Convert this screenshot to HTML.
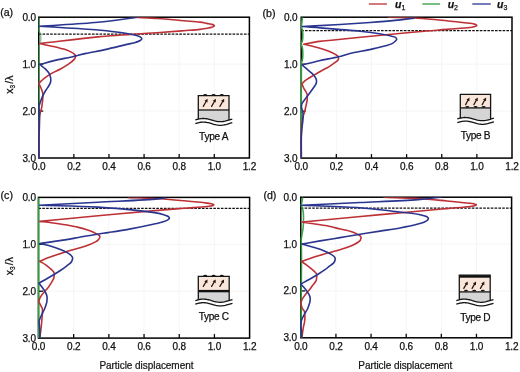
<!DOCTYPE html><html><head><meta charset="utf-8"><style>html,body{margin:0;padding:0;background:#fff;}svg{display:block;}text{font-family:"Liberation Sans",Arial,sans-serif;stroke:#111;stroke-width:0.25px;}</style></head><body>
<svg width="520" height="372" viewBox="0 0 520 372">
<rect width="520" height="372" fill="#fff"/>
<line x1="73.86" y1="17.20" x2="73.86" y2="158.00" stroke="#f2f2f2" stroke-width="0.8"/>
<line x1="108.97" y1="17.20" x2="108.97" y2="158.00" stroke="#f2f2f2" stroke-width="0.8"/>
<line x1="144.08" y1="17.20" x2="144.08" y2="158.00" stroke="#f2f2f2" stroke-width="0.8"/>
<line x1="179.18" y1="17.20" x2="179.18" y2="158.00" stroke="#f2f2f2" stroke-width="0.8"/>
<line x1="214.29" y1="17.20" x2="214.29" y2="158.00" stroke="#f2f2f2" stroke-width="0.8"/>
<line x1="38.75" y1="64.13" x2="249.40" y2="64.13" stroke="#f2f2f2" stroke-width="0.8"/>
<line x1="38.75" y1="111.07" x2="249.40" y2="111.07" stroke="#f2f2f2" stroke-width="0.8"/>
<clipPath id="cpa"><rect x="36.75" y="17.20" width="212.65" height="140.80"/></clipPath>
<line x1="38.75" y1="34.20" x2="249.40" y2="34.20" stroke="#111" stroke-width="1.25" stroke-dasharray="2.6 1.2"/>
<rect x="38.75" y="17.20" width="210.65" height="140.80" fill="none" stroke="#000" stroke-width="1.5"/>
<line x1="73.86" y1="158.00" x2="73.86" y2="154.00" stroke="#0a0a0a" stroke-width="1.3"/>
<line x1="108.97" y1="158.00" x2="108.97" y2="154.00" stroke="#0a0a0a" stroke-width="1.3"/>
<line x1="144.08" y1="158.00" x2="144.08" y2="154.00" stroke="#0a0a0a" stroke-width="1.3"/>
<line x1="179.18" y1="158.00" x2="179.18" y2="154.00" stroke="#0a0a0a" stroke-width="1.3"/>
<line x1="214.29" y1="158.00" x2="214.29" y2="154.00" stroke="#0a0a0a" stroke-width="1.3"/>
<line x1="38.75" y1="64.13" x2="43.25" y2="64.13" stroke="#0a0a0a" stroke-width="1.3"/>
<line x1="38.75" y1="111.07" x2="43.25" y2="111.07" stroke="#0a0a0a" stroke-width="1.3"/>
<g clip-path="url(#cpa)" fill="none" stroke-width="1.6" stroke-linejoin="round">
<path d="M38.90 17.20 L38.90 30.60 C39.37 31.73 40.03 33.10 40.30 34.00 C40.47 34.56 40.51 34.95 40.59 35.40 C40.66 35.81 40.70 36.18 40.74 36.60 C40.78 37.05 40.80 37.53 40.80 38.00 C40.80 38.47 40.78 38.95 40.74 39.40 C40.70 39.82 40.66 40.19 40.59 40.60 C40.51 41.05 40.47 41.43 40.30 42.00 C40.03 42.93 39.37 44.40 38.90 45.60 L38.90 158.00" stroke="#2e9e3a" stroke-opacity="0.55"/>
<path d="M135.00 17.20 C142.67 17.63 150.12 17.94 158.00 18.50 C166.36 19.09 176.20 20.05 183.80 20.70 C189.83 21.22 195.75 21.52 200.00 22.10 C202.80 22.48 204.87 23.01 206.90 23.40 C208.51 23.71 210.03 23.93 211.23 24.24 C212.11 24.47 212.92 24.64 213.48 24.96 C213.89 25.20 214.40 25.52 214.40 25.80 C214.40 26.08 213.89 26.40 213.48 26.64 C212.92 26.96 212.11 27.13 211.23 27.36 C210.03 27.67 208.51 27.90 206.90 28.20 C204.87 28.57 202.79 29.05 200.00 29.40 C195.74 29.94 189.72 30.24 183.80 30.70 C176.63 31.26 169.80 31.78 160.00 32.50 C144.19 33.66 118.31 35.03 98.00 36.90 C78.30 38.72 59.27 41.30 39.90 43.50 C41.83 44.00 43.62 44.53 45.70 45.00 C48.08 45.54 50.84 45.94 53.40 46.50 C55.97 47.07 58.81 47.80 61.10 48.40 C62.95 48.89 64.35 49.14 66.10 49.80 C68.16 50.57 71.16 52.06 72.60 52.90 C73.37 53.35 73.81 53.67 74.27 54.09 C74.68 54.45 75.08 54.81 75.28 55.21 C75.45 55.56 75.50 55.94 75.50 56.30 C75.50 56.66 75.38 57.04 75.28 57.38 C75.19 57.71 75.11 58.00 74.95 58.31 C74.77 58.67 74.61 58.95 74.20 59.40 C73.22 60.48 70.63 62.68 68.50 64.20 C66.12 65.90 63.27 67.49 60.50 69.00 C57.64 70.56 54.35 71.80 51.60 73.40 C49.05 74.89 46.50 76.65 44.50 78.20 C42.90 79.43 41.42 80.85 40.40 81.80 C39.76 82.40 39.40 82.80 38.90 83.30 C39.77 85.30 40.90 87.78 41.50 89.30 C41.86 90.22 42.09 90.82 42.31 91.54 C42.51 92.20 42.70 92.79 42.80 93.46 C42.90 94.17 42.90 94.95 42.90 95.70 C42.90 96.45 42.83 97.22 42.80 97.94 C42.76 98.60 42.75 99.20 42.69 99.86 C42.62 100.58 42.53 101.16 42.40 102.10 C42.19 103.69 41.89 106.81 41.50 108.50 C41.24 109.64 40.90 110.37 40.60 111.30 C40.27 112.87 39.84 114.17 39.60 116.00 C39.27 118.51 39.22 121.06 39.10 125.00 C38.87 132.55 38.97 147.00 38.90 158.00" stroke="#bd3036"/>
<path d="M137.20 17.30 C135.67 17.50 134.85 17.61 132.60 17.90 C126.44 18.68 111.05 20.94 98.00 22.20 C81.11 23.83 59.13 24.87 39.70 26.20 C59.13 27.47 81.98 28.51 98.00 30.00 C109.29 31.05 120.02 32.38 126.80 33.50 C130.55 34.12 133.03 34.66 135.46 35.32 C137.27 35.81 139.02 36.16 140.12 36.88 C140.91 37.39 141.80 38.09 141.80 38.70 C141.80 39.31 140.90 39.98 140.12 40.52 C139.01 41.29 137.28 41.83 135.46 42.41 C133.04 43.17 130.34 43.57 126.80 44.40 C121.16 45.72 111.94 48.06 104.90 49.60 C98.38 51.03 91.36 52.22 86.00 53.40 C82.01 54.28 78.49 55.20 75.60 55.90 C73.54 56.40 72.55 56.69 70.30 57.20 C66.38 58.09 59.29 59.30 54.10 60.60 C49.21 61.82 44.70 63.33 40.00 64.70 C41.77 66.10 43.73 67.37 45.30 68.90 C46.81 70.38 48.41 72.10 49.30 73.70 C50.02 75.00 50.41 76.77 50.60 77.60 C50.69 77.98 50.69 78.17 50.72 78.44 C50.74 78.69 50.75 78.91 50.77 79.16 C50.78 79.43 50.80 79.72 50.80 80.00 C50.80 80.28 50.80 80.53 50.77 80.84 C50.72 81.24 50.62 81.77 50.50 82.21 C50.39 82.62 50.32 82.91 50.10 83.40 C49.71 84.29 48.81 85.87 48.10 87.00 C47.43 88.06 46.76 88.78 46.00 90.00 C44.92 91.75 43.44 94.30 42.40 96.60 C41.33 98.96 40.34 102.07 39.70 104.00 C39.30 105.21 39.10 106.00 38.80 107.00 C39.00 108.67 39.30 110.57 39.40 112.00 C39.47 113.07 39.44 113.90 39.46 114.80 C39.47 115.63 39.48 116.37 39.49 117.20 C39.49 118.10 39.50 119.07 39.50 120.00 C39.50 120.93 39.50 121.66 39.49 122.80 C39.46 124.60 39.38 127.60 39.29 129.75 C39.21 131.62 39.07 132.63 39.00 135.00 C38.85 139.96 38.93 150.33 38.90 158.00" stroke="#2a3590"/>
</g>
<text x="38.75" y="169.90" font-size="10.0" letter-spacing="-0.2" text-anchor="middle" fill="#111">0.0</text>
<text x="73.86" y="169.90" font-size="10.0" letter-spacing="-0.2" text-anchor="middle" fill="#111">0.2</text>
<text x="108.97" y="169.90" font-size="10.0" letter-spacing="-0.2" text-anchor="middle" fill="#111">0.4</text>
<text x="144.08" y="169.90" font-size="10.0" letter-spacing="-0.2" text-anchor="middle" fill="#111">0.6</text>
<text x="179.18" y="169.90" font-size="10.0" letter-spacing="-0.2" text-anchor="middle" fill="#111">0.8</text>
<text x="214.29" y="169.90" font-size="10.0" letter-spacing="-0.2" text-anchor="middle" fill="#111">1.0</text>
<text x="249.40" y="169.90" font-size="10.0" letter-spacing="-0.2" text-anchor="middle" fill="#111">1.2</text>
<text x="35.75" y="20.70" font-size="10.0" letter-spacing="-0.2" text-anchor="end" fill="#111">0.0</text>
<text x="35.75" y="67.63" font-size="10.0" letter-spacing="-0.2" text-anchor="end" fill="#111">1.0</text>
<text x="35.75" y="114.57" font-size="10.0" letter-spacing="-0.2" text-anchor="end" fill="#111">2.0</text>
<text x="35.75" y="161.50" font-size="10.0" letter-spacing="-0.2" text-anchor="end" fill="#111">3.0</text>
<text x="0.2" y="16.4" font-size="10.6" fill="#111">(a)</text>
<line x1="336.33" y1="17.20" x2="336.33" y2="158.10" stroke="#f2f2f2" stroke-width="0.8"/>
<line x1="371.47" y1="17.20" x2="371.47" y2="158.10" stroke="#f2f2f2" stroke-width="0.8"/>
<line x1="406.60" y1="17.20" x2="406.60" y2="158.10" stroke="#f2f2f2" stroke-width="0.8"/>
<line x1="441.73" y1="17.20" x2="441.73" y2="158.10" stroke="#f2f2f2" stroke-width="0.8"/>
<line x1="476.87" y1="17.20" x2="476.87" y2="158.10" stroke="#f2f2f2" stroke-width="0.8"/>
<line x1="301.20" y1="64.17" x2="512.00" y2="64.17" stroke="#f2f2f2" stroke-width="0.8"/>
<line x1="301.20" y1="111.13" x2="512.00" y2="111.13" stroke="#f2f2f2" stroke-width="0.8"/>
<clipPath id="cpb"><rect x="299.20" y="17.20" width="212.80" height="140.90"/></clipPath>
<line x1="301.20" y1="30.50" x2="512.00" y2="30.50" stroke="#111" stroke-width="1.25" stroke-dasharray="2.6 1.2"/>
<rect x="301.20" y="17.20" width="210.80" height="140.90" fill="none" stroke="#000" stroke-width="1.5"/>
<line x1="336.33" y1="158.10" x2="336.33" y2="154.10" stroke="#0a0a0a" stroke-width="1.3"/>
<line x1="371.47" y1="158.10" x2="371.47" y2="154.10" stroke="#0a0a0a" stroke-width="1.3"/>
<line x1="406.60" y1="158.10" x2="406.60" y2="154.10" stroke="#0a0a0a" stroke-width="1.3"/>
<line x1="441.73" y1="158.10" x2="441.73" y2="154.10" stroke="#0a0a0a" stroke-width="1.3"/>
<line x1="476.87" y1="158.10" x2="476.87" y2="154.10" stroke="#0a0a0a" stroke-width="1.3"/>
<line x1="301.20" y1="64.17" x2="305.70" y2="64.17" stroke="#0a0a0a" stroke-width="1.3"/>
<line x1="301.20" y1="111.13" x2="305.70" y2="111.13" stroke="#0a0a0a" stroke-width="1.3"/>
<g clip-path="url(#cpb)" fill="none" stroke-width="1.6" stroke-linejoin="round">
<path d="M302.40 17.20 L301.30 26.80 C301.70 28.20 302.29 29.97 302.50 31.00 C302.62 31.59 302.63 31.95 302.67 32.40 C302.72 32.81 302.75 33.18 302.77 33.60 C302.79 34.05 302.80 34.53 302.80 35.00 C302.80 35.47 302.79 35.90 302.77 36.40 C302.75 36.97 302.72 37.64 302.67 38.25 C302.63 38.84 302.64 39.31 302.50 40.00 C302.29 41.07 301.70 42.67 301.30 44.00 C301.70 45.67 302.29 47.76 302.50 49.00 C302.62 49.73 302.63 50.19 302.67 50.75 C302.71 51.27 302.74 51.73 302.76 52.25 C302.79 52.81 302.80 53.42 302.80 54.00 C302.80 54.58 302.79 55.19 302.76 55.75 C302.74 56.27 302.71 56.73 302.67 57.25 C302.63 57.81 302.63 58.28 302.50 59.00 C302.29 60.19 301.70 62.13 301.30 63.70 C301.37 75.80 301.33 86.49 301.30 100.00 C301.26 117.08 301.23 138.67 301.20 158.00" stroke="#2e9e3a" stroke-opacity="1"/>
<path d="M388.00 17.20 C398.00 17.53 408.11 17.59 418.00 18.20 C427.71 18.80 437.73 19.90 446.80 20.80 C454.93 21.61 465.39 22.64 469.90 23.30 C471.78 23.58 472.78 23.77 473.88 24.04 C474.69 24.23 475.44 24.38 475.95 24.66 C476.33 24.87 476.80 25.15 476.80 25.40 C476.80 25.64 476.33 25.93 475.95 26.13 C475.44 26.42 474.69 26.57 473.88 26.77 C472.78 27.03 471.79 27.25 469.90 27.50 C465.39 28.10 454.92 28.74 446.80 29.40 C437.73 30.14 429.34 30.70 418.00 31.70 C401.62 33.15 373.55 35.95 358.00 37.50 C348.10 38.49 340.76 39.30 333.70 40.00 C328.25 40.54 324.09 40.70 319.20 41.40 C314.13 42.12 308.93 43.33 303.80 44.30 C307.33 45.10 310.97 45.79 314.40 46.70 C317.70 47.57 320.99 48.58 324.00 49.60 C326.72 50.52 329.36 51.38 331.70 52.50 C333.82 53.51 336.60 55.03 337.50 55.90 C337.86 56.25 337.93 56.51 338.08 56.81 C338.20 57.07 338.28 57.32 338.35 57.59 C338.42 57.88 338.50 58.20 338.50 58.50 C338.50 58.80 338.49 59.09 338.35 59.41 C338.16 59.86 337.71 60.41 337.27 60.84 C336.81 61.31 336.35 61.55 335.60 62.10 C334.10 63.19 330.89 65.63 328.80 66.90 C327.15 67.90 326.00 68.31 324.20 69.30 C321.55 70.76 317.57 73.09 314.50 74.90 C311.70 76.55 308.76 78.10 306.50 79.70 C304.67 81.00 303.37 82.30 301.80 83.60 C302.53 85.27 303.28 87.22 304.00 88.60 C304.54 89.63 305.14 90.41 305.60 91.20 C305.98 91.85 306.31 92.39 306.58 92.98 C306.84 93.53 307.10 94.06 307.22 94.62 C307.33 95.17 307.30 95.74 307.30 96.30 C307.30 96.86 307.24 97.44 307.22 97.98 C307.20 98.48 307.21 98.92 307.17 99.42 C307.14 99.96 307.12 100.38 307.00 101.10 C306.78 102.44 306.06 105.02 305.70 106.80 C305.38 108.36 305.17 109.73 304.90 111.20 C304.43 112.47 303.93 113.52 303.50 115.00 C302.93 116.96 302.35 119.29 302.00 122.00 C301.53 125.65 301.52 130.05 301.40 135.00 C301.23 141.58 301.33 150.33 301.30 158.00" stroke="#bd3036"/>
<path d="M414.40 18.10 C407.93 18.87 401.88 19.70 395.00 20.40 C387.20 21.19 378.72 21.84 370.00 22.50 C360.46 23.22 350.57 23.87 340.00 24.50 C328.15 25.21 314.87 25.83 302.30 26.50 C321.53 28.07 345.54 29.65 360.00 31.20 C368.75 32.14 375.46 33.08 381.00 34.00 C384.66 34.61 387.45 35.18 390.07 35.82 C392.11 36.32 394.36 36.58 395.46 37.38 C396.15 37.88 396.70 38.59 396.70 39.20 C396.70 39.81 396.02 40.42 395.46 41.02 C394.73 41.81 393.72 42.67 392.52 43.36 C390.98 44.25 389.26 44.84 386.80 45.60 C382.62 46.89 375.45 48.32 369.50 49.60 C363.20 50.96 355.62 52.13 350.00 53.50 C345.64 54.56 342.85 55.74 338.50 56.80 C332.92 58.16 325.40 59.29 319.20 60.70 C313.36 62.03 307.93 63.57 302.30 65.00 C303.77 66.53 305.69 67.91 306.70 68.80 C307.28 69.31 307.40 69.55 308.00 70.10 C309.21 71.21 312.30 73.25 313.70 74.90 C314.81 76.20 315.73 78.03 316.10 78.90 C316.26 79.28 316.27 79.49 316.33 79.78 C316.38 80.03 316.42 80.26 316.44 80.53 C316.47 80.80 316.50 81.11 316.50 81.40 C316.50 81.69 316.51 81.93 316.44 82.28 C316.33 82.83 316.05 83.75 315.74 84.39 C315.46 84.98 315.18 85.30 314.70 86.00 C313.75 87.40 311.77 90.19 310.30 92.20 C308.87 94.15 307.40 96.00 306.00 97.90 C304.63 99.77 302.75 101.81 302.00 103.50 C301.48 104.69 301.53 105.70 301.30 106.80 C301.73 108.40 302.33 110.54 302.60 111.60 C302.74 112.13 302.81 112.41 302.89 112.79 C302.96 113.14 303.04 113.46 303.07 113.81 C303.11 114.19 303.10 114.60 303.10 115.00 C303.10 115.40 303.10 115.65 303.07 116.19 C303.03 117.33 302.91 119.92 302.76 121.50 C302.64 122.79 302.47 123.53 302.30 125.00 C302.01 127.48 301.50 130.98 301.30 135.00 C301.00 141.09 301.30 150.33 301.30 158.00" stroke="#2a3590"/>
</g>
<text x="301.20" y="170.00" font-size="10.0" letter-spacing="-0.2" text-anchor="middle" fill="#111">0.0</text>
<text x="336.33" y="170.00" font-size="10.0" letter-spacing="-0.2" text-anchor="middle" fill="#111">0.2</text>
<text x="371.47" y="170.00" font-size="10.0" letter-spacing="-0.2" text-anchor="middle" fill="#111">0.4</text>
<text x="406.60" y="170.00" font-size="10.0" letter-spacing="-0.2" text-anchor="middle" fill="#111">0.6</text>
<text x="441.73" y="170.00" font-size="10.0" letter-spacing="-0.2" text-anchor="middle" fill="#111">0.8</text>
<text x="476.87" y="170.00" font-size="10.0" letter-spacing="-0.2" text-anchor="middle" fill="#111">1.0</text>
<text x="512.00" y="170.00" font-size="10.0" letter-spacing="-0.2" text-anchor="middle" fill="#111">1.2</text>
<text x="297.30" y="20.70" font-size="10.0" letter-spacing="-0.2" text-anchor="end" fill="#111">0.0</text>
<text x="297.30" y="67.67" font-size="10.0" letter-spacing="-0.2" text-anchor="end" fill="#111">1.0</text>
<text x="297.30" y="114.63" font-size="10.0" letter-spacing="-0.2" text-anchor="end" fill="#111">2.0</text>
<text x="297.30" y="161.60" font-size="10.0" letter-spacing="-0.2" text-anchor="end" fill="#111">3.0</text>
<text x="262.6" y="17.1" font-size="10.6" fill="#111">(b)</text>
<line x1="73.68" y1="197.40" x2="73.68" y2="338.10" stroke="#f2f2f2" stroke-width="0.8"/>
<line x1="108.87" y1="197.40" x2="108.87" y2="338.10" stroke="#f2f2f2" stroke-width="0.8"/>
<line x1="144.05" y1="197.40" x2="144.05" y2="338.10" stroke="#f2f2f2" stroke-width="0.8"/>
<line x1="179.23" y1="197.40" x2="179.23" y2="338.10" stroke="#f2f2f2" stroke-width="0.8"/>
<line x1="214.42" y1="197.40" x2="214.42" y2="338.10" stroke="#f2f2f2" stroke-width="0.8"/>
<line x1="38.50" y1="244.30" x2="249.60" y2="244.30" stroke="#f2f2f2" stroke-width="0.8"/>
<line x1="38.50" y1="291.20" x2="249.60" y2="291.20" stroke="#f2f2f2" stroke-width="0.8"/>
<clipPath id="cpc"><rect x="36.50" y="197.40" width="213.10" height="140.70"/></clipPath>
<line x1="38.50" y1="208.30" x2="249.60" y2="208.30" stroke="#111" stroke-width="1.25" stroke-dasharray="2.6 1.2"/>
<rect x="38.50" y="197.40" width="211.10" height="140.70" fill="none" stroke="#000" stroke-width="1.5"/>
<line x1="73.68" y1="338.10" x2="73.68" y2="334.10" stroke="#0a0a0a" stroke-width="1.3"/>
<line x1="108.87" y1="338.10" x2="108.87" y2="334.10" stroke="#0a0a0a" stroke-width="1.3"/>
<line x1="144.05" y1="338.10" x2="144.05" y2="334.10" stroke="#0a0a0a" stroke-width="1.3"/>
<line x1="179.23" y1="338.10" x2="179.23" y2="334.10" stroke="#0a0a0a" stroke-width="1.3"/>
<line x1="214.42" y1="338.10" x2="214.42" y2="334.10" stroke="#0a0a0a" stroke-width="1.3"/>
<line x1="38.50" y1="244.30" x2="43.00" y2="244.30" stroke="#0a0a0a" stroke-width="1.3"/>
<line x1="38.50" y1="291.20" x2="43.00" y2="291.20" stroke="#0a0a0a" stroke-width="1.3"/>
<g clip-path="url(#cpc)" fill="none" stroke-width="1.6" stroke-linejoin="round">
<path d="M38.50 197.40 L38.50 338.00" stroke="#2e9e3a" stroke-opacity="1"/>
<path d="M128.00 197.40 C137.00 197.77 145.86 197.95 155.00 198.50 C164.45 199.07 174.73 199.99 183.80 200.80 C191.93 201.53 202.38 202.54 206.90 203.10 C208.78 203.33 209.78 203.48 210.88 203.69 C211.69 203.85 212.43 203.97 212.95 204.21 C213.32 204.37 213.80 204.60 213.80 204.80 C213.80 205.00 213.32 205.23 212.95 205.40 C212.43 205.63 211.69 205.75 210.88 205.91 C209.78 206.12 208.78 206.29 206.90 206.50 C202.39 207.01 191.92 207.66 183.80 208.30 C174.73 209.02 166.22 209.64 155.00 210.60 C139.21 211.95 117.10 214.01 98.00 215.80 C78.70 217.61 59.20 219.53 39.80 221.40 C43.70 221.83 47.47 222.18 51.50 222.70 C55.82 223.26 60.43 223.92 64.90 224.70 C69.40 225.49 73.94 226.27 78.40 227.40 C82.90 228.54 88.37 230.13 91.80 231.50 C94.05 232.40 95.95 233.52 97.20 234.20 C97.88 234.57 98.32 234.80 98.76 235.11 C99.12 235.36 99.49 235.58 99.68 235.89 C99.85 236.16 99.90 236.50 99.90 236.80 C99.90 237.10 99.84 237.36 99.68 237.71 C99.42 238.31 98.82 239.28 98.21 239.92 C97.57 240.58 97.00 240.97 95.90 241.60 C93.66 242.88 89.23 244.82 85.10 246.30 C79.85 248.18 72.79 249.65 66.80 251.50 C60.93 253.32 54.43 255.49 49.50 257.30 C45.75 258.67 42.97 259.90 39.70 261.20 C41.70 262.40 43.77 263.43 45.70 264.80 C47.71 266.22 50.19 268.38 51.50 269.60 C52.23 270.28 52.66 270.72 53.12 271.28 C53.51 271.76 53.91 272.20 54.11 272.72 C54.30 273.24 54.30 273.84 54.30 274.40 C54.30 274.96 54.17 275.54 54.11 276.08 C54.04 276.58 54.03 277.03 53.92 277.52 C53.80 278.06 53.71 278.52 53.40 279.20 C52.85 280.42 51.49 282.46 50.50 284.00 C49.55 285.48 48.63 287.01 47.60 288.30 C46.65 289.49 45.65 290.25 44.60 291.50 C43.25 293.10 41.31 295.35 40.30 297.20 C39.49 298.70 39.23 300.13 38.70 301.60 C39.57 303.23 40.72 305.36 41.30 306.50 C41.61 307.11 41.80 307.45 41.99 307.90 C42.17 308.31 42.36 308.68 42.45 309.10 C42.54 309.54 42.50 310.03 42.50 310.50 C42.50 310.97 42.47 311.38 42.45 311.90 C42.42 312.55 42.42 313.37 42.37 314.07 C42.33 314.74 42.28 315.11 42.20 316.00 C42.02 318.03 41.65 322.67 41.30 326.00 C40.95 329.34 40.38 333.94 40.10 336.00 C39.98 336.92 39.90 337.33 39.80 338.00" stroke="#bd3036"/>
<path d="M167.00 197.40 C164.00 197.90 162.34 198.42 158.00 198.90 C146.85 200.13 117.86 201.14 98.00 202.20 C78.43 203.24 59.13 204.20 39.70 205.20 C59.13 205.83 78.61 205.82 98.00 207.10 C117.38 208.38 145.68 211.18 156.00 212.90 C159.81 213.54 161.58 214.06 163.74 214.72 C165.34 215.21 166.86 215.59 167.85 216.28 C168.58 216.79 169.40 217.49 169.40 218.10 C169.40 218.71 168.56 219.39 167.85 219.92 C166.90 220.62 165.48 221.09 163.95 221.61 C161.89 222.31 159.82 222.74 156.50 223.50 C149.90 225.01 135.59 228.00 126.80 229.60 C119.84 230.87 113.41 231.77 108.00 232.60 C103.91 233.23 101.29 233.54 97.20 234.20 C91.79 235.08 84.78 236.40 78.40 237.50 C71.79 238.64 64.79 239.88 58.20 240.90 C51.90 241.87 45.87 242.63 39.70 243.50 C42.97 244.27 46.12 244.82 49.50 245.80 C53.23 246.88 57.62 248.35 61.10 249.80 C64.09 251.05 67.46 252.66 69.20 253.80 C70.13 254.40 70.63 254.88 71.16 255.44 C71.61 255.92 72.03 256.37 72.26 256.89 C72.49 257.39 72.60 257.96 72.60 258.50 C72.60 259.04 72.43 259.60 72.26 260.11 C72.10 260.60 71.92 261.03 71.63 261.49 C71.29 262.03 70.89 262.53 70.30 263.10 C69.44 263.93 68.11 264.81 66.80 265.80 C65.14 267.05 62.84 268.80 61.10 270.00 C59.69 270.97 58.80 271.51 57.20 272.50 C54.72 274.05 50.73 276.48 47.60 278.30 C44.67 280.00 41.87 281.50 39.00 283.10 C40.17 284.67 41.40 286.21 42.50 287.80 C43.57 289.35 44.82 291.22 45.50 292.50 C45.94 293.32 46.17 293.90 46.42 294.60 C46.66 295.26 46.86 295.92 46.97 296.57 C47.08 297.22 47.10 297.86 47.10 298.50 C47.10 299.14 47.03 299.81 46.97 300.43 C46.92 301.00 46.87 301.51 46.76 302.07 C46.65 302.69 46.53 303.22 46.30 304.00 C45.92 305.28 45.20 307.35 44.50 309.00 C43.78 310.69 42.79 312.32 42.00 314.00 C41.22 315.66 40.33 317.61 39.80 319.00 C39.43 319.97 39.27 320.67 39.00 321.50 C39.27 324.33 39.69 328.23 39.80 330.00 C39.85 330.80 39.84 331.13 39.86 331.75 C39.87 332.44 39.88 333.35 39.89 333.95 C39.89 334.36 39.90 334.65 39.90 335.00 C39.90 335.35 39.91 335.71 39.89 336.05 C39.87 336.36 39.82 336.64 39.77 336.95 C39.72 337.29 39.66 337.65 39.60 338.00" stroke="#2a3590"/>
</g>
<text x="38.50" y="350.00" font-size="10.0" letter-spacing="-0.2" text-anchor="middle" fill="#111">0.0</text>
<text x="73.68" y="350.00" font-size="10.0" letter-spacing="-0.2" text-anchor="middle" fill="#111">0.2</text>
<text x="108.87" y="350.00" font-size="10.0" letter-spacing="-0.2" text-anchor="middle" fill="#111">0.4</text>
<text x="144.05" y="350.00" font-size="10.0" letter-spacing="-0.2" text-anchor="middle" fill="#111">0.6</text>
<text x="179.23" y="350.00" font-size="10.0" letter-spacing="-0.2" text-anchor="middle" fill="#111">0.8</text>
<text x="214.42" y="350.00" font-size="10.0" letter-spacing="-0.2" text-anchor="middle" fill="#111">1.0</text>
<text x="249.60" y="350.00" font-size="10.0" letter-spacing="-0.2" text-anchor="middle" fill="#111">1.2</text>
<text x="35.80" y="200.90" font-size="10.0" letter-spacing="-0.2" text-anchor="end" fill="#111">0.0</text>
<text x="35.80" y="247.80" font-size="10.0" letter-spacing="-0.2" text-anchor="end" fill="#111">1.0</text>
<text x="35.80" y="294.70" font-size="10.0" letter-spacing="-0.2" text-anchor="end" fill="#111">2.0</text>
<text x="35.80" y="341.60" font-size="10.0" letter-spacing="-0.2" text-anchor="end" fill="#111">3.0</text>
<text x="0.6" y="198.9" font-size="10.6" fill="#111">(c)</text>
<line x1="335.93" y1="197.20" x2="335.93" y2="337.80" stroke="#f2f2f2" stroke-width="0.8"/>
<line x1="371.07" y1="197.20" x2="371.07" y2="337.80" stroke="#f2f2f2" stroke-width="0.8"/>
<line x1="406.20" y1="197.20" x2="406.20" y2="337.80" stroke="#f2f2f2" stroke-width="0.8"/>
<line x1="441.33" y1="197.20" x2="441.33" y2="337.80" stroke="#f2f2f2" stroke-width="0.8"/>
<line x1="476.47" y1="197.20" x2="476.47" y2="337.80" stroke="#f2f2f2" stroke-width="0.8"/>
<line x1="300.80" y1="244.07" x2="511.60" y2="244.07" stroke="#f2f2f2" stroke-width="0.8"/>
<line x1="300.80" y1="290.93" x2="511.60" y2="290.93" stroke="#f2f2f2" stroke-width="0.8"/>
<clipPath id="cpd"><rect x="298.80" y="197.20" width="212.80" height="140.60"/></clipPath>
<line x1="300.80" y1="208.20" x2="511.60" y2="208.20" stroke="#111" stroke-width="1.25" stroke-dasharray="2.6 1.2"/>
<rect x="300.80" y="197.20" width="210.80" height="140.60" fill="none" stroke="#000" stroke-width="1.5"/>
<line x1="335.93" y1="337.80" x2="335.93" y2="333.80" stroke="#0a0a0a" stroke-width="1.3"/>
<line x1="371.07" y1="337.80" x2="371.07" y2="333.80" stroke="#0a0a0a" stroke-width="1.3"/>
<line x1="406.20" y1="337.80" x2="406.20" y2="333.80" stroke="#0a0a0a" stroke-width="1.3"/>
<line x1="441.33" y1="337.80" x2="441.33" y2="333.80" stroke="#0a0a0a" stroke-width="1.3"/>
<line x1="476.47" y1="337.80" x2="476.47" y2="333.80" stroke="#0a0a0a" stroke-width="1.3"/>
<line x1="300.80" y1="244.07" x2="305.30" y2="244.07" stroke="#0a0a0a" stroke-width="1.3"/>
<line x1="300.80" y1="290.93" x2="305.30" y2="290.93" stroke="#0a0a0a" stroke-width="1.3"/>
<g clip-path="url(#cpd)" fill="none" stroke-width="1.6" stroke-linejoin="round">
<path d="M302.80 197.20 L301.20 205.30 C301.83 207.20 302.78 209.48 303.10 211.00 C303.31 211.97 303.27 212.66 303.33 213.45 C303.39 214.18 303.44 214.82 303.47 215.55 C303.50 216.33 303.50 217.18 303.50 218.00 C303.50 218.82 303.49 219.53 303.47 220.45 C303.44 221.63 303.40 223.20 303.33 224.50 C303.27 225.71 303.28 226.51 303.10 228.00 C302.78 230.65 301.83 235.33 301.20 239.00 C301.26 241.45 301.33 243.99 301.37 246.35 C301.42 248.53 301.45 250.47 301.47 252.65 C301.50 255.01 301.50 257.55 301.50 260.00 C301.50 262.45 301.49 264.59 301.47 267.35 C301.45 270.89 301.42 275.60 301.37 279.50 C301.33 283.13 301.24 285.23 301.20 290.00 C301.11 300.17 301.13 321.87 301.10 337.80" stroke="#2e9e3a" stroke-opacity="0.9"/>
<path d="M383.40 197.30 C394.93 197.70 407.00 197.83 418.00 198.50 C428.05 199.11 437.73 200.15 446.80 201.00 C454.93 201.76 465.50 202.77 469.90 203.30 C471.66 203.51 472.55 203.63 473.60 203.83 C474.37 203.97 475.13 204.05 475.61 204.28 C475.92 204.42 476.30 204.62 476.30 204.80 C476.30 204.98 475.92 205.17 475.61 205.33 C475.13 205.57 474.37 205.73 473.60 205.91 C472.56 206.14 471.67 206.28 469.90 206.50 C465.51 207.05 454.92 207.86 446.80 208.60 C437.73 209.42 429.34 210.17 418.00 211.20 C401.63 212.69 377.61 214.85 358.00 216.70 C339.14 218.48 321.00 220.30 302.50 222.10 C306.17 222.63 309.65 223.12 313.50 223.70 C317.75 224.34 322.93 225.01 326.90 225.80 C330.13 226.44 332.32 227.12 335.60 227.90 C339.84 228.91 346.10 229.99 350.20 231.30 C353.31 232.30 356.57 233.73 358.20 234.60 C358.97 235.01 359.36 235.32 359.82 235.69 C360.20 235.99 360.59 236.26 360.78 236.61 C360.96 236.94 361.00 237.34 361.00 237.70 C361.00 238.06 360.87 238.43 360.78 238.78 C360.70 239.13 360.64 239.45 360.49 239.78 C360.33 240.15 360.22 240.48 359.80 240.90 C358.87 241.85 356.29 243.41 354.20 244.50 C351.80 245.75 348.81 246.84 346.10 247.80 C343.45 248.74 340.78 249.43 338.10 250.20 C335.41 250.97 333.24 251.48 330.00 252.40 C325.08 253.80 316.67 256.16 311.50 257.90 C307.69 259.18 304.97 260.37 301.70 261.60 C303.70 263.00 305.75 264.31 307.70 265.80 C309.68 267.31 312.11 269.35 313.50 270.60 C314.33 271.34 314.87 271.84 315.41 272.45 C315.87 272.99 316.36 273.46 316.59 274.05 C316.81 274.61 316.80 275.28 316.80 275.90 C316.80 276.52 316.65 277.16 316.59 277.75 C316.53 278.31 316.52 278.80 316.42 279.34 C316.30 279.94 316.26 280.48 315.90 281.20 C315.26 282.48 313.25 284.58 312.20 286.00 C311.39 287.11 310.93 287.96 310.10 289.00 C309.11 290.24 307.78 291.42 306.60 292.90 C305.19 294.67 303.29 297.08 302.30 299.00 C301.53 300.50 301.30 301.87 300.80 303.30 C301.30 305.00 301.60 306.96 302.30 308.40 C302.89 309.62 304.13 310.54 304.50 311.50 C304.77 312.20 304.67 312.85 304.73 313.50 C304.78 314.09 304.82 314.61 304.84 315.20 C304.87 315.84 304.90 316.53 304.90 317.20 C304.90 317.87 304.91 318.41 304.84 319.19 C304.76 320.32 304.55 322.02 304.31 323.31 C304.09 324.47 303.77 325.21 303.50 326.60 C303.04 328.92 302.35 334.09 302.10 336.00 C301.99 336.83 301.97 337.20 301.90 337.80" stroke="#bd3036"/>
<path d="M441.00 197.30 C433.33 198.07 427.42 198.89 418.00 199.60 C403.07 200.72 379.36 201.57 360.00 202.50 C340.59 203.43 321.13 204.30 301.70 205.20 C321.13 206.03 343.39 206.45 360.00 207.70 C372.45 208.63 382.41 210.03 392.60 211.20 C401.60 212.23 412.48 213.26 418.00 214.30 C420.72 214.81 422.31 215.29 424.01 215.84 C425.30 216.26 426.61 216.56 427.36 217.16 C427.90 217.59 428.40 218.19 428.40 218.70 C428.40 219.21 427.88 219.75 427.36 220.24 C426.61 220.95 425.33 221.62 424.01 222.21 C422.33 222.95 420.56 223.42 418.00 224.10 C413.63 225.26 406.18 226.85 400.00 228.00 C393.53 229.20 386.67 230.07 380.00 231.10 C373.33 232.13 366.66 233.12 360.00 234.20 C353.33 235.28 346.67 236.48 340.00 237.60 C333.33 238.72 326.48 239.79 320.00 240.90 C313.86 241.95 308.07 243.03 302.10 244.10 C305.23 244.97 308.21 245.72 311.50 246.70 C315.17 247.79 319.63 249.00 323.10 250.40 C326.09 251.61 329.35 253.31 331.20 254.40 C332.23 255.01 332.86 255.44 333.51 256.01 C334.07 256.50 334.64 257.02 334.92 257.56 C335.15 258.02 335.20 258.52 335.20 259.00 C335.20 259.48 335.04 259.98 334.92 260.44 C334.80 260.87 334.69 261.25 334.48 261.67 C334.24 262.14 334.01 262.56 333.50 263.10 C332.56 264.09 330.24 265.58 328.80 266.70 C327.57 267.66 326.73 268.44 325.40 269.40 C323.66 270.66 321.51 272.05 319.20 273.50 C316.37 275.28 312.75 277.41 309.60 279.20 C306.62 280.90 303.73 282.40 300.80 284.00 C302.17 285.53 303.64 287.01 304.90 288.60 C306.13 290.15 307.50 292.14 308.30 293.40 C308.79 294.18 309.10 294.71 309.40 295.36 C309.67 295.96 309.91 296.54 310.04 297.14 C310.17 297.75 310.20 298.38 310.20 299.00 C310.20 299.62 310.11 300.26 310.04 300.86 C309.97 301.41 309.91 301.90 309.78 302.44 C309.64 303.04 309.45 303.54 309.20 304.30 C308.79 305.51 308.18 307.58 307.50 309.00 C306.89 310.28 306.17 311.10 305.40 312.50 C304.29 314.51 302.35 317.73 301.60 320.00 C301.03 321.73 301.07 323.20 300.80 324.80 C300.93 326.37 301.08 328.21 301.20 329.50 C301.28 330.39 301.37 330.93 301.43 331.77 C301.51 332.84 301.57 334.66 301.59 335.37 C301.60 335.67 301.60 335.79 301.60 336.00 C301.60 336.21 301.61 336.43 301.59 336.63 C301.58 336.82 301.55 336.98 301.52 337.17 C301.48 337.37 301.44 337.59 301.40 337.80" stroke="#2a3590"/>
</g>
<text x="300.80" y="349.70" font-size="10.0" letter-spacing="-0.2" text-anchor="middle" fill="#111">0.0</text>
<text x="335.93" y="349.70" font-size="10.0" letter-spacing="-0.2" text-anchor="middle" fill="#111">0.2</text>
<text x="371.07" y="349.70" font-size="10.0" letter-spacing="-0.2" text-anchor="middle" fill="#111">0.4</text>
<text x="406.20" y="349.70" font-size="10.0" letter-spacing="-0.2" text-anchor="middle" fill="#111">0.6</text>
<text x="441.33" y="349.70" font-size="10.0" letter-spacing="-0.2" text-anchor="middle" fill="#111">0.8</text>
<text x="476.47" y="349.70" font-size="10.0" letter-spacing="-0.2" text-anchor="middle" fill="#111">1.0</text>
<text x="511.60" y="349.70" font-size="10.0" letter-spacing="-0.2" text-anchor="middle" fill="#111">1.2</text>
<text x="296.80" y="200.70" font-size="10.0" letter-spacing="-0.2" text-anchor="end" fill="#111">0.0</text>
<text x="296.80" y="247.57" font-size="10.0" letter-spacing="-0.2" text-anchor="end" fill="#111">1.0</text>
<text x="296.80" y="294.43" font-size="10.0" letter-spacing="-0.2" text-anchor="end" fill="#111">2.0</text>
<text x="296.80" y="341.30" font-size="10.0" letter-spacing="-0.2" text-anchor="end" fill="#111">3.0</text>
<text x="263.4" y="198.9" font-size="10.6" fill="#111">(d)</text>
<text transform="translate(12.9 84.60) rotate(-90)" font-size="10.5" text-anchor="middle" fill="#111">x<tspan font-size="6.6" dy="2.2">3</tspan><tspan dy="-2.2" dx="1.0">/</tspan><tspan dx="0.2">λ</tspan></text>
<text transform="translate(12.9 266.10) rotate(-90)" font-size="10.5" text-anchor="middle" fill="#111">x<tspan font-size="6.6" dy="2.2">3</tspan><tspan dy="-2.2" dx="1.0">/</tspan><tspan dx="0.2">λ</tspan></text>
<text x="146.40" y="368.6" font-size="10" letter-spacing="-0.05" text-anchor="middle" fill="#111" style="stroke-width:0.2px">Particle displacement</text>
<text x="405.30" y="368.6" font-size="10" letter-spacing="-0.05" text-anchor="middle" fill="#111" style="stroke-width:0.2px">Particle displacement</text>
<line x1="368.9" y1="4" x2="386.9" y2="4" stroke="#bd3036" stroke-width="1.3"/>
<text x="395" y="8" font-size="10.5" font-style="italic" font-weight="bold" fill="#111">u<tspan font-size="7" dy="2" font-style="normal" font-weight="normal">1</tspan></text>
<line x1="422.3" y1="4" x2="440.0" y2="4" stroke="#2e9e3a" stroke-width="1.3"/>
<text x="447.7" y="8" font-size="10.5" font-style="italic" font-weight="bold" fill="#111">u<tspan font-size="7" dy="2" font-style="normal" font-weight="normal">2</tspan></text>
<line x1="472.3" y1="4" x2="490.8" y2="4" stroke="#2a3590" stroke-width="1.3"/>
<text x="497" y="8" font-size="10.5" font-style="italic" font-weight="bold" fill="#111">u<tspan font-size="7" dy="2" font-style="normal" font-weight="normal">3</tspan></text>
<rect x="198.3" y="95.6" width="30.69999999999999" height="14.400000000000006" fill="#fae7dc"/>
<path d="M198.3 110.0 L229.0 110.0 L228.60 120.16 L227.68 120.43 L226.75 120.69 L225.83 120.94 L224.90 121.16 L223.98 121.34 L223.05 121.50 L222.12 121.61 L221.20 121.68 L220.28 121.70 L219.35 121.68 L218.43 121.60 L217.50 121.49 L216.58 121.34 L215.65 121.14 L214.73 120.92 L213.80 120.68 L212.88 120.42 L211.95 120.14 L211.03 119.87 L210.10 119.61 L209.18 119.35 L208.25 119.12 L207.33 118.92 L206.40 118.76 L205.48 118.63 L204.55 118.54 L203.62 118.50 L202.70 118.51 L201.78 118.56 L200.85 118.66 L199.93 118.80 L199.00 118.98 L198.3 119.95 Z" fill="#d5d5d5"/>
<line x1="198.3" y1="110.0" x2="229.0" y2="110.0" stroke="#151515" stroke-width="1.3"/>
<path d="M198.3 119.14 V95.6 H229.0 V120.04" fill="none" stroke="#151515" stroke-width="1.3"/>
<ellipse cx="205.20" cy="94.80" rx="1.95" ry="0.85" fill="#151515"/>
<ellipse cx="213.60" cy="94.80" rx="1.95" ry="0.85" fill="#151515"/>
<ellipse cx="221.80" cy="94.80" rx="1.95" ry="0.85" fill="#151515"/>
<line x1="203.30" y1="106.40" x2="206.22" y2="101.24" stroke="#2a140c" stroke-width="1.25" stroke-linecap="round"/><path d="M207.60 98.80 L207.50 102.53 L204.45 100.81 Z" fill="#2a140c"/>
<line x1="211.60" y1="106.40" x2="214.52" y2="101.24" stroke="#2a140c" stroke-width="1.25" stroke-linecap="round"/><path d="M215.90 98.80 L215.80 102.53 L212.75 100.81 Z" fill="#2a140c"/>
<line x1="219.90" y1="106.40" x2="222.82" y2="101.24" stroke="#2a140c" stroke-width="1.25" stroke-linecap="round"/><path d="M224.20 98.80 L224.10 102.53 L221.05 100.81 Z" fill="#2a140c"/>
<path d="M195.30 119.95 L196.23 119.68 L197.15 119.43 L198.08 119.19 L199.00 118.98 L199.93 118.80 L200.85 118.66 L201.78 118.56 L202.70 118.51 L203.62 118.50 L204.55 118.54 L205.48 118.63 L206.40 118.76 L207.33 118.92 L208.25 119.12 L209.18 119.35 L210.10 119.61 L211.03 119.87 L211.95 120.14 L212.88 120.42 L213.80 120.68 L214.73 120.92 L215.65 121.14 L216.58 121.34 L217.50 121.49 L218.43 121.60 L219.35 121.68 L220.28 121.70 L221.20 121.68 L222.12 121.61 L223.05 121.50 L223.98 121.34 L224.90 121.16 L225.83 120.94 L226.75 120.69 L227.68 120.43 L228.60 120.16 L229.53 119.89 L230.45 119.62 L231.38 119.37 L232.30 119.14" fill="none" stroke="#151515" stroke-width="1.3"/>
<path d="M195.30 123.55 L196.23 123.28 L197.15 123.03 L198.08 122.79 L199.00 122.58 L199.93 122.40 L200.85 122.26 L201.78 122.16 L202.70 122.11 L203.62 122.10 L204.55 122.14 L205.48 122.23 L206.40 122.36 L207.33 122.52 L208.25 122.72 L209.18 122.95 L210.10 123.21 L211.03 123.47 L211.95 123.74 L212.88 124.02 L213.80 124.28 L214.73 124.52 L215.65 124.74 L216.58 124.94 L217.50 125.09 L218.43 125.20 L219.35 125.28 L220.28 125.30 L221.20 125.28 L222.12 125.21 L223.05 125.10 L223.98 124.94 L224.90 124.76 L225.83 124.54 L226.75 124.29 L227.68 124.03 L228.60 123.76 L229.53 123.49 L230.45 123.22 L231.38 122.97 L232.30 122.74" fill="none" stroke="#151515" stroke-width="1.3"/>
<text x="213.65" y="139.9" font-size="10.1" letter-spacing="-0.3" text-anchor="middle" fill="#111" style="stroke-width:0.25px">Type A</text>
<rect x="460.3" y="94.3" width="30.30000000000001" height="13.600000000000009" fill="#fae7dc"/>
<path d="M460.3 107.9 L490.6 107.9 L490.24 119.27 L489.33 119.53 L488.41 119.78 L487.50 120.02 L486.58 120.23 L485.67 120.40 L484.75 120.54 L483.84 120.64 L482.92 120.69 L482.01 120.70 L481.09 120.66 L480.18 120.58 L479.26 120.45 L478.35 120.29 L477.43 120.09 L476.52 119.87 L475.60 119.62 L474.69 119.36 L473.77 119.09 L472.86 118.82 L471.94 118.56 L471.03 118.31 L470.11 118.09 L469.19 117.90 L468.28 117.74 L467.37 117.62 L466.45 117.54 L465.54 117.50 L464.62 117.51 L463.71 117.57 L462.79 117.67 L461.88 117.81 L460.96 117.99 L460.3 118.95 Z" fill="#d5d5d5"/>
<line x1="460.3" y1="107.9" x2="490.6" y2="107.9" stroke="#151515" stroke-width="1.3"/>
<path d="M460.3 118.14 V94.3 H490.6 V119.16" fill="none" stroke="#151515" stroke-width="1.3"/>
<ellipse cx="467.30" cy="106.80" rx="1.95" ry="0.85" fill="#151515"/>
<ellipse cx="475.60" cy="106.80" rx="1.95" ry="0.85" fill="#151515"/>
<ellipse cx="483.60" cy="106.80" rx="1.95" ry="0.85" fill="#151515"/>
<line x1="465.60" y1="104.60" x2="468.14" y2="100.05" stroke="#2a140c" stroke-width="1.25" stroke-linecap="round"/><path d="M469.50 97.60 L469.42 101.33 L466.37 99.63 Z" fill="#2a140c"/>
<line x1="473.90" y1="104.60" x2="476.44" y2="100.05" stroke="#2a140c" stroke-width="1.25" stroke-linecap="round"/><path d="M477.80 97.60 L477.72 101.33 L474.67 99.63 Z" fill="#2a140c"/>
<line x1="482.20" y1="104.60" x2="484.74" y2="100.05" stroke="#2a140c" stroke-width="1.25" stroke-linecap="round"/><path d="M486.10 97.60 L486.02 101.33 L482.97 99.63 Z" fill="#2a140c"/>
<path d="M457.30 118.95 L458.22 118.69 L459.13 118.43 L460.05 118.20 L460.96 117.99 L461.88 117.81 L462.79 117.67 L463.71 117.57 L464.62 117.51 L465.54 117.50 L466.45 117.54 L467.37 117.62 L468.28 117.74 L469.19 117.90 L470.11 118.09 L471.03 118.31 L471.94 118.56 L472.86 118.82 L473.77 119.09 L474.69 119.36 L475.60 119.62 L476.52 119.87 L477.43 120.09 L478.35 120.29 L479.26 120.45 L480.18 120.58 L481.09 120.66 L482.01 120.70 L482.92 120.69 L483.84 120.64 L484.75 120.54 L485.67 120.40 L486.58 120.23 L487.50 120.02 L488.41 119.78 L489.33 119.53 L490.24 119.27 L491.16 119.00 L492.07 118.73 L492.99 118.47 L493.90 118.23" fill="none" stroke="#151515" stroke-width="1.3"/>
<path d="M457.30 122.55 L458.22 122.29 L459.13 122.03 L460.05 121.80 L460.96 121.59 L461.88 121.41 L462.79 121.27 L463.71 121.17 L464.62 121.11 L465.54 121.10 L466.45 121.14 L467.37 121.22 L468.28 121.34 L469.19 121.50 L470.11 121.69 L471.03 121.91 L471.94 122.16 L472.86 122.42 L473.77 122.69 L474.69 122.96 L475.60 123.22 L476.52 123.47 L477.43 123.69 L478.35 123.89 L479.26 124.05 L480.18 124.18 L481.09 124.26 L482.01 124.30 L482.92 124.29 L483.84 124.24 L484.75 124.14 L485.67 124.00 L486.58 123.83 L487.50 123.62 L488.41 123.38 L489.33 123.13 L490.24 122.87 L491.16 122.60 L492.07 122.33 L492.99 122.07 L493.90 121.83" fill="none" stroke="#151515" stroke-width="1.3"/>
<text x="475.45" y="138.5" font-size="10.1" letter-spacing="-0.3" text-anchor="middle" fill="#111" style="stroke-width:0.25px">Type B</text>
<rect x="198.3" y="276.3" width="30.899999999999977" height="14.699999999999989" fill="#fae7dc"/>
<path d="M198.3 291.0 L229.2 291.0 L228.78 300.71 L227.85 300.98 L226.92 301.24 L225.99 301.49 L225.06 301.72 L224.13 301.92 L223.20 302.08 L222.27 302.20 L221.34 302.27 L220.41 302.30 L219.48 302.28 L218.55 302.22 L217.62 302.11 L216.69 301.96 L215.76 301.77 L214.83 301.55 L213.90 301.31 L212.97 301.04 L212.04 300.77 L211.11 300.50 L210.18 300.23 L209.25 299.97 L208.32 299.74 L207.39 299.54 L206.46 299.37 L205.53 299.23 L204.60 299.15 L203.67 299.10 L202.74 299.11 L201.81 299.16 L200.88 299.26 L199.95 299.40 L199.02 299.57 L198.3 300.55 Z" fill="#d5d5d5"/>
<rect x="198.3" y="289.9" width="30.899999999999977" height="2.400000000000034" fill="#111"/>
<path d="M198.3 299.74 V276.3 H229.2 V300.58" fill="none" stroke="#151515" stroke-width="1.3"/>
<ellipse cx="205.20" cy="275.50" rx="1.95" ry="0.85" fill="#151515"/>
<ellipse cx="213.60" cy="275.50" rx="1.95" ry="0.85" fill="#151515"/>
<ellipse cx="221.80" cy="275.50" rx="1.95" ry="0.85" fill="#151515"/>
<line x1="203.30" y1="286.40" x2="206.06" y2="281.80" stroke="#2a140c" stroke-width="1.25" stroke-linecap="round"/><path d="M207.50 279.40 L207.30 283.13 L204.30 281.33 Z" fill="#2a140c"/>
<line x1="211.60" y1="286.40" x2="214.36" y2="281.80" stroke="#2a140c" stroke-width="1.25" stroke-linecap="round"/><path d="M215.80 279.40 L215.60 283.13 L212.60 281.33 Z" fill="#2a140c"/>
<line x1="219.90" y1="286.40" x2="222.66" y2="281.80" stroke="#2a140c" stroke-width="1.25" stroke-linecap="round"/><path d="M224.10 279.40 L223.90 283.13 L220.90 281.33 Z" fill="#2a140c"/>
<path d="M195.30 300.55 L196.23 300.28 L197.16 300.02 L198.09 299.79 L199.02 299.57 L199.95 299.40 L200.88 299.26 L201.81 299.16 L202.74 299.11 L203.67 299.10 L204.60 299.15 L205.53 299.23 L206.46 299.37 L207.39 299.54 L208.32 299.74 L209.25 299.97 L210.18 300.23 L211.11 300.50 L212.04 300.77 L212.97 301.04 L213.90 301.31 L214.83 301.55 L215.76 301.77 L216.69 301.96 L217.62 302.11 L218.55 302.22 L219.48 302.28 L220.41 302.30 L221.34 302.27 L222.27 302.20 L223.20 302.08 L224.13 301.92 L225.06 301.72 L225.99 301.49 L226.92 301.24 L227.85 300.98 L228.78 300.71 L229.71 300.43 L230.64 300.17 L231.57 299.92 L232.50 299.69" fill="none" stroke="#151515" stroke-width="1.3"/>
<path d="M195.30 304.15 L196.23 303.88 L197.16 303.62 L198.09 303.39 L199.02 303.17 L199.95 303.00 L200.88 302.86 L201.81 302.76 L202.74 302.71 L203.67 302.70 L204.60 302.75 L205.53 302.83 L206.46 302.97 L207.39 303.14 L208.32 303.34 L209.25 303.57 L210.18 303.83 L211.11 304.10 L212.04 304.37 L212.97 304.64 L213.90 304.91 L214.83 305.15 L215.76 305.37 L216.69 305.56 L217.62 305.71 L218.55 305.82 L219.48 305.88 L220.41 305.90 L221.34 305.87 L222.27 305.80 L223.20 305.68 L224.13 305.52 L225.06 305.32 L225.99 305.09 L226.92 304.84 L227.85 304.58 L228.78 304.31 L229.71 304.03 L230.64 303.77 L231.57 303.52 L232.50 303.29" fill="none" stroke="#151515" stroke-width="1.3"/>
<text x="213.75" y="320.4" font-size="10.1" letter-spacing="-0.3" text-anchor="middle" fill="#111" style="stroke-width:0.25px">Type C</text>
<rect x="459.3" y="277.0" width="30.899999999999977" height="14.899999999999977" fill="#fae7dc"/>
<path d="M459.3 291.9 L490.2 291.9 L489.78 300.71 L488.85 300.98 L487.92 301.24 L486.99 301.49 L486.06 301.72 L485.13 301.92 L484.20 302.08 L483.27 302.20 L482.34 302.27 L481.41 302.30 L480.48 302.28 L479.55 302.22 L478.62 302.11 L477.69 301.96 L476.76 301.77 L475.83 301.55 L474.90 301.31 L473.97 301.04 L473.04 300.77 L472.11 300.50 L471.18 300.23 L470.25 299.97 L469.32 299.74 L468.39 299.54 L467.46 299.37 L466.53 299.23 L465.60 299.15 L464.67 299.10 L463.74 299.11 L462.81 299.16 L461.88 299.26 L460.95 299.40 L460.02 299.57 L459.3 300.55 Z" fill="#d5d5d5"/>
<rect x="459.3" y="275.1" width="30.899999999999977" height="2.599999999999966" fill="#111"/>
<line x1="459.3" y1="291.9" x2="490.2" y2="291.9" stroke="#151515" stroke-width="1.3"/>
<path d="M459.3 299.74 V275.1 H490.2 V300.58" fill="none" stroke="#151515" stroke-width="1.3"/>
<ellipse cx="466.00" cy="290.60" rx="1.95" ry="0.85" fill="#151515"/>
<ellipse cx="474.20" cy="290.60" rx="1.95" ry="0.85" fill="#151515"/>
<ellipse cx="482.80" cy="290.60" rx="1.95" ry="0.85" fill="#151515"/>
<line x1="463.80" y1="288.40" x2="466.40" y2="283.92" stroke="#2a140c" stroke-width="1.25" stroke-linecap="round"/><path d="M467.80 281.50 L467.66 285.23 L464.63 283.48 Z" fill="#2a140c"/>
<line x1="472.10" y1="288.40" x2="474.70" y2="283.92" stroke="#2a140c" stroke-width="1.25" stroke-linecap="round"/><path d="M476.10 281.50 L475.96 285.23 L472.93 283.48 Z" fill="#2a140c"/>
<line x1="480.40" y1="288.40" x2="483.00" y2="283.92" stroke="#2a140c" stroke-width="1.25" stroke-linecap="round"/><path d="M484.40 281.50 L484.26 285.23 L481.23 283.48 Z" fill="#2a140c"/>
<path d="M456.30 300.55 L457.23 300.28 L458.16 300.02 L459.09 299.79 L460.02 299.57 L460.95 299.40 L461.88 299.26 L462.81 299.16 L463.74 299.11 L464.67 299.10 L465.60 299.15 L466.53 299.23 L467.46 299.37 L468.39 299.54 L469.32 299.74 L470.25 299.97 L471.18 300.23 L472.11 300.50 L473.04 300.77 L473.97 301.04 L474.90 301.31 L475.83 301.55 L476.76 301.77 L477.69 301.96 L478.62 302.11 L479.55 302.22 L480.48 302.28 L481.41 302.30 L482.34 302.27 L483.27 302.20 L484.20 302.08 L485.13 301.92 L486.06 301.72 L486.99 301.49 L487.92 301.24 L488.85 300.98 L489.78 300.71 L490.71 300.43 L491.64 300.17 L492.57 299.92 L493.50 299.69" fill="none" stroke="#151515" stroke-width="1.3"/>
<path d="M456.30 304.15 L457.23 303.88 L458.16 303.62 L459.09 303.39 L460.02 303.17 L460.95 303.00 L461.88 302.86 L462.81 302.76 L463.74 302.71 L464.67 302.70 L465.60 302.75 L466.53 302.83 L467.46 302.97 L468.39 303.14 L469.32 303.34 L470.25 303.57 L471.18 303.83 L472.11 304.10 L473.04 304.37 L473.97 304.64 L474.90 304.91 L475.83 305.15 L476.76 305.37 L477.69 305.56 L478.62 305.71 L479.55 305.82 L480.48 305.88 L481.41 305.90 L482.34 305.87 L483.27 305.80 L484.20 305.68 L485.13 305.52 L486.06 305.32 L486.99 305.09 L487.92 304.84 L488.85 304.58 L489.78 304.31 L490.71 304.03 L491.64 303.77 L492.57 303.52 L493.50 303.29" fill="none" stroke="#151515" stroke-width="1.3"/>
<text x="475.25" y="320.8" font-size="10.1" letter-spacing="-0.3" text-anchor="middle" fill="#111" style="stroke-width:0.25px">Type D</text>
</svg></body></html>
